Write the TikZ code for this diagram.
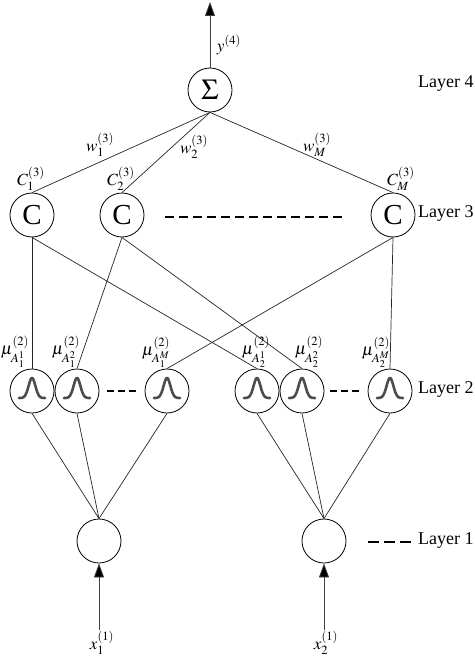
\documentclass[tikz,border=0pt]{standalone}
\usepackage{mathptmx}
\usepackage{fontspec}
\setmainfont{Liberation Serif}
\usetikzlibrary{arrows.meta}
\tikzset{
  neuron/.style={circle, draw, line width=0.8pt, minimum size=44pt, inner sep=0pt},
  conn/.style={line width=0.7pt, draw=black!85},
  inarrow/.style={line width=0.8pt, draw=black!75, -{Triangle[length=14pt,width=10pt,fill=black]}},
  bell/.style={line width=2.6pt, draw=black!70, line cap=round, line join=round},
  layerdash/.style={line width=2.6pt, dash pattern=on 9pt off 5pt},
  layerlabel/.style={anchor=west, font=\fontsize{18}{20}\selectfont, inner sep=0pt},
  mlabel/.style={font=\fontsize{17}{19}\selectfont, inner sep=0pt},
  biglabel/.style={font=\fontsize{29}{31}\selectfont, inner sep=0pt}
}
\begin{document}
\begin{tikzpicture}[x=1pt,y=-1pt]
\useasboundingbox (0,0) rectangle (474,658);
% Layer 4
\node[neuron] (sig) at (210,90) {};
\node[biglabel] (sigt) at (sig.center) {$\Sigma$};
\coordinate (yout) at (210,2);
\draw[inarrow] (sig.north) -- (yout);
\node[mlabel] (ylab) at (229,45) {$y^{(4)}$};
% Layer 3
\node[neuron] (c1) at (32,215) {};
\node[neuron] (c2) at (122,215) {};
\node[neuron] (cm) at (393,215) {};
\foreach \n in {c1,c2,cm} \node[biglabel] at (\n.center) {C};
\coordinate (d3a) at (165,217);
\coordinate (d3b) at (345,217);
\draw[layerdash] (d3a) -- (d3b);
\draw[conn] (sig.south) -- (c1.north);
\draw[conn] (sig.south) -- (c2.north);
\draw[conn] (sig.south) -- (cm.north);
\node[mlabel] (w1) at (100,145) {$w_1^{(3)}$};
\node[mlabel] (w2) at (194,147) {$w_2^{(3)}$};
\node[mlabel] (wm) at (317,145) {$w_M^{(3)}$};
\node[mlabel] (c1l) at (31,179) {$C_1^{(3)}$};
\node[mlabel] (c2l) at (121,179) {$C_2^{(3)}$};
\node[mlabel] (cml) at (401,179) {$C_M^{(3)}$};
% Layer 2
\node[neuron] (m11) at (32,391) {};
\node[neuron] (m12) at (77,391) {};
\node[neuron] (m1m) at (167,391) {};
\node[neuron] (m21) at (257,391) {};
\node[neuron] (m22) at (302,391) {};
\node[neuron] (m2m) at (390,391) {};
\foreach \n in {m11,m12,m1m,m21,m22,m2m}
  \draw[bell, shift={(\n.center)}] plot[domain=-13:13, samples=50, smooth] ({\x}, {7-20*exp(-(\x/4.8)^2)});
\coordinate (d2a) at (107,391);
\coordinate (d2b) at (136,391);
\coordinate (d2c) at (330,391);
\coordinate (d2d) at (360,391);
\draw[layerdash, dash pattern=on 7pt off 4pt] (d2a) -- (d2b);
\draw[layerdash, dash pattern=on 7pt off 4pt] (d2c) -- (d2d);
\draw[conn] (c1.south) -- (m11.north);
\draw[conn] (c1.south) -- (m21.north);
\draw[conn] (c2.south) -- (m12.north);
\draw[conn] (c2.south) -- (m22.north);
\draw[conn] (cm.south) -- (m1m.north);
\draw[conn] (cm.south) -- (m2m.north);
\node[mlabel] (l11) at (15,352) {$\mu_{A_1^1}^{(2)}$};
\node[mlabel] (l12) at (66,352) {$\mu_{A_1^2}^{(2)}$};
\node[mlabel] (l1m) at (156,352) {$\mu_{A_1^M}^{(2)}$};
\node[mlabel] (l21) at (256,352) {$\mu_{A_2^1}^{(2)}$};
\node[mlabel] (l22) at (309,352) {$\mu_{A_2^2}^{(2)}$};
\node[mlabel] (l2m) at (376,352) {$\mu_{A_2^M}^{(2)}$};
% Layer 1
\node[neuron] (in1) at (99,541) {};
\node[neuron] (in2) at (324,541) {};
\foreach \m in {m11,m12,m1m} \draw[conn] (\m.south) -- (in1.north);
\foreach \m in {m21,m22,m2m} \draw[conn] (\m.south) -- (in2.north);
\coordinate (x1s) at (99,630);
\coordinate (x2s) at (324,630);
\draw[inarrow] (x1s) -- (in1.south);
\draw[inarrow] (x2s) -- (in2.south);
\node[mlabel] (x1l) at (102,643) {$x_1^{(1)}$};
\node[mlabel] (x2l) at (326,643) {$x_2^{(1)}$};
\coordinate (d1a) at (368,542);
\coordinate (d1b) at (413,542);
\draw[layerdash, dash pattern=on 11pt off 5pt] (d1a) -- (d1b);
% Layer labels
\node[layerlabel] (L4) at (418,84) {Layer 4};
\node[layerlabel] (L3) at (418,213) {Layer 3};
\node[layerlabel] (L2) at (418,389) {Layer 2};
\node[layerlabel] (L1) at (418,540) {Layer 1};
\end{tikzpicture}
\end{document}
